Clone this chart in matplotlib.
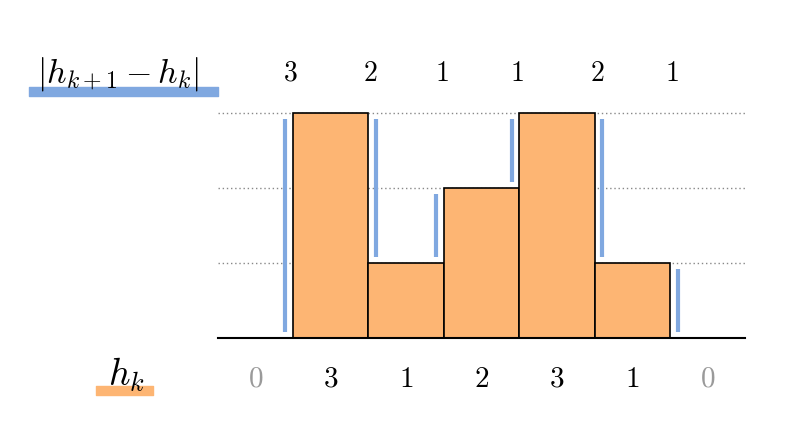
import numpy as np
import matplotlib.pyplot as plt

plt.rcParams['mathtext.fontset'] = 'cm'

positions = [0, 1, 2, 3, 4, 5, 6]
heights = [0, 3, 1, 2, 3, 1, 0]
diff_labels = ['3', '2', '1', '1', '2', '1']
height_labels = ['0', '3', '1', '2', '3', '1', '0']

bar_color = '#FDB573'
line_color = '#80A8E0'

fig = plt.figure(figsize=(8, 4.36), dpi=100)
ax = fig.add_axes([0, 0, 1, 1])
ax.set_xlim(-3.386, 7.224)
ax.set_ylim(-1.307, 4.507)
ax.axis('off')

# dotted guides
for lvl in [1, 2, 3]:
    ax.plot([-0.5, 6.5], [lvl, lvl], color='#888888', linestyle=(0, (1, 2)), linewidth=1, zorder=1)

# bars (skip the zero ones)
bx = [p for p, h in zip(positions, heights) if h > 0]
bh = [h for h in heights if h > 0]
ax.bar(bx, bh, width=1, color=bar_color, edgecolor='black', linewidth=1.2, zorder=2)

ax.plot([-0.5, 6.5], [0, 0], color='black', linewidth=1.5, zorder=3)

# difference lines at each boundary, drawn on the side of the lower column
pad = 0.08
off = 0.1
for k in range(len(heights) - 1):
    a, b = heights[k], heights[k + 1]
    lo, hi = min(a, b), max(a, b)
    xb = positions[k] + 0.5
    xl = xb - off if a < b else xb + off
    ax.plot([xl, xl], [lo + pad, hi - pad], color=line_color, linewidth=3, solid_capstyle='butt', zorder=3)
    ax.text(xb - 0.03 if a < b else xb + 0.03, 3.43, '$' + diff_labels[k] + '$',
            fontsize=20, ha='center', va='baseline')

for p, lab, h in zip(positions, height_labels, heights):
    ax.text(p, -0.65, '$' + lab + '$', fontsize=21, ha='center', va='baseline',
            color='#9a9a9a' if h == 0 else 'black')

# row captions with highlight bars
ax.fill_between([-3.0, -0.5], 3.23, 3.35, color=line_color, zorder=1)
ax.text(-2.895, 3.41, r'$|h_{k+1} - h_k|$', fontsize=24.5, ha='left', va='baseline', zorder=2)
ax.fill_between([-2.11, -1.36], -0.76, -0.64, color=bar_color, zorder=1)
ax.text(-1.953, -0.64, r'$h_k$', fontsize=27, ha='left', va='baseline', zorder=2)

plt.savefig('out.png', dpi=100)
